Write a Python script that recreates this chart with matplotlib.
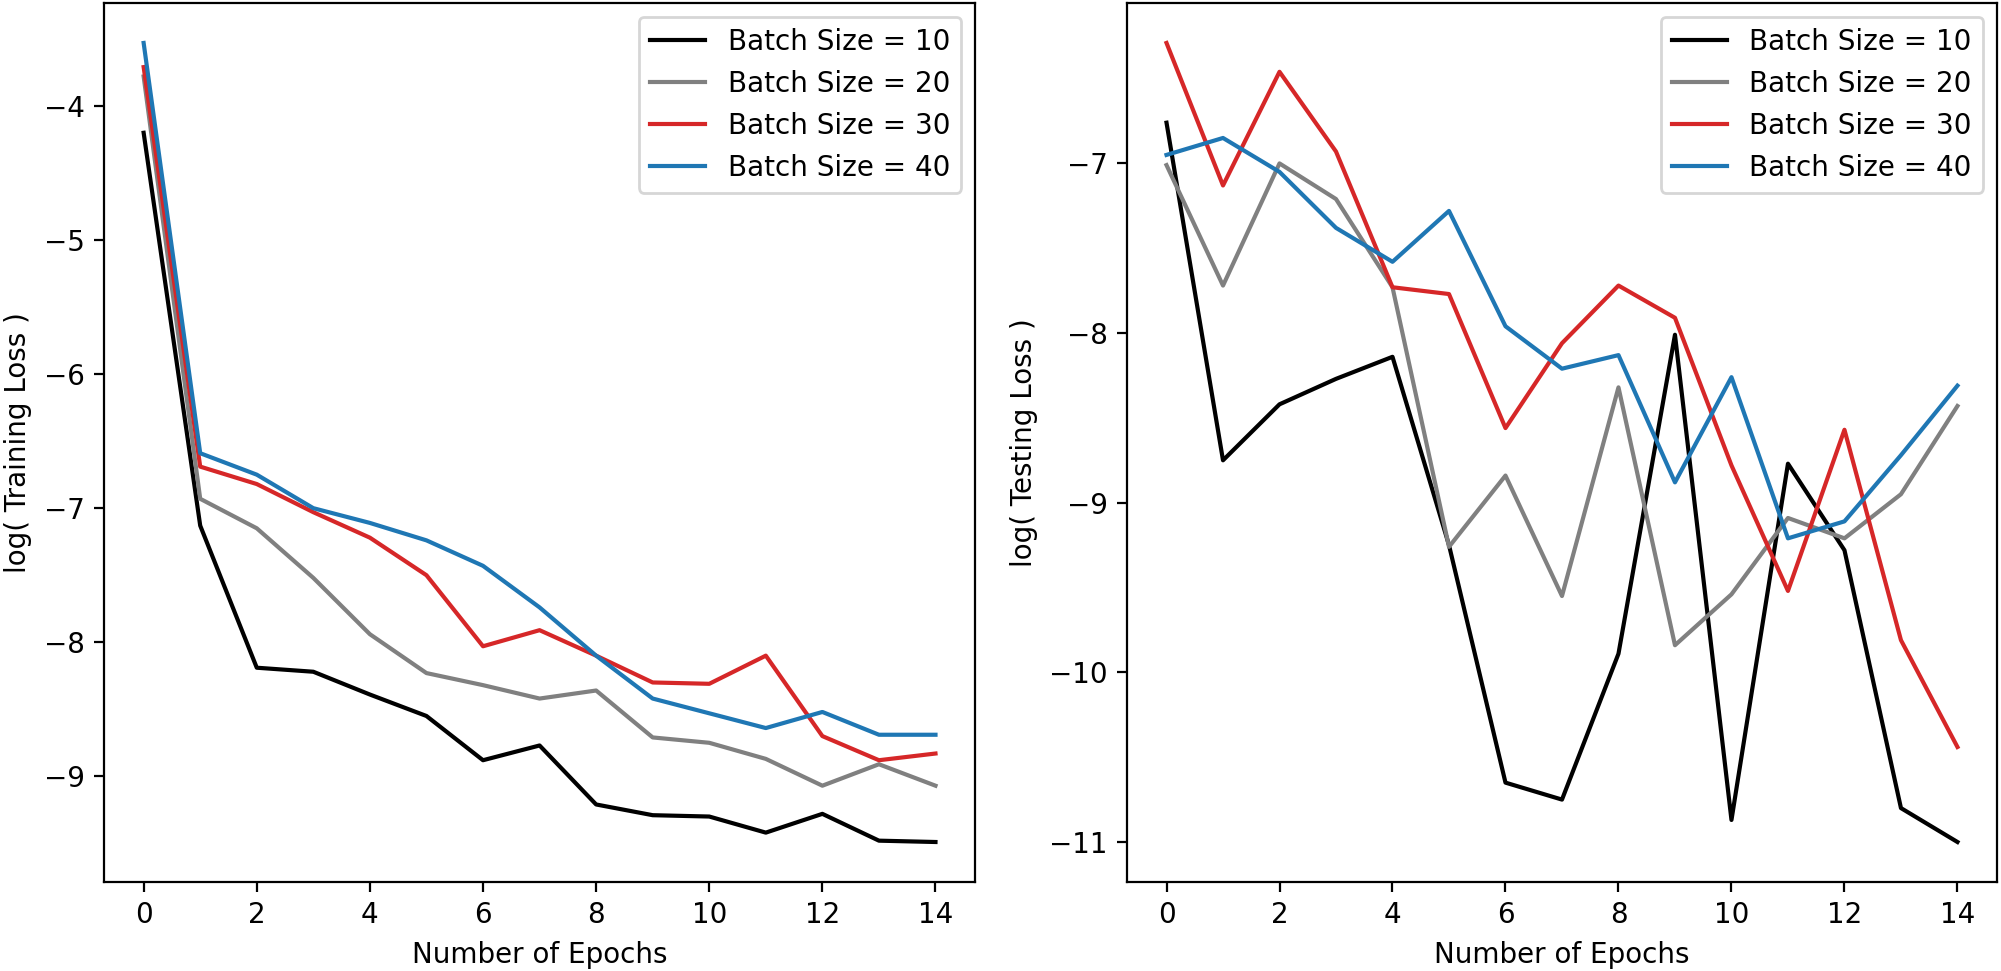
import matplotlib.pyplot as plt

epochs = list(range(15))
labels = ["Batch Size = 10", "Batch Size = 20", "Batch Size = 30", "Batch Size = 40"]
colors = ["black", "gray", "tab:red", "tab:blue"]

train_10 = [-4.20, -7.13, -8.19, -8.22, -8.39, -8.55, -8.88, -8.77, -9.21, -9.29, -9.30, -9.42, -9.28, -9.48, -9.49]
train_20 = [-3.78, -6.93, -7.15, -7.52, -7.94, -8.23, -8.32, -8.42, -8.36, -8.71, -8.75, -8.87, -9.07, -8.91, -9.07]
train_30 = [-3.71, -6.69, -6.82, -7.03, -7.22, -7.50, -8.03, -7.91, -8.10, -8.30, -8.31, -8.10, -8.70, -8.88, -8.83]
train_40 = [-3.53, -6.59, -6.75, -7.00, -7.11, -7.24, -7.43, -7.74, -8.10, -8.42, -8.53, -8.64, -8.52, -8.69, -8.69]

test_10 = [-6.76, -8.75, -8.42, -8.27, -8.14, -9.25, -10.65, -10.75, -9.89, -8.01, -10.87, -8.77, -9.28, -10.80, -11.00]
test_20 = [-7.01, -7.72, -7.00, -7.21, -7.73, -9.26, -8.84, -9.55, -8.32, -9.84, -9.54, -9.09, -9.21, -8.95, -8.43]
test_30 = [-6.29, -7.13, -6.46, -6.93, -7.73, -7.77, -8.56, -8.06, -7.72, -7.91, -8.78, -9.52, -8.57, -9.81, -10.44]
test_40 = [-6.95, -6.85, -7.05, -7.38, -7.58, -7.28, -7.96, -8.21, -8.13, -8.88, -8.26, -9.21, -9.11, -8.72, -8.31]

train = [train_10, train_20, train_30, train_40]
test = [test_10, test_20, test_30, test_40]

fig = plt.figure(figsize=(10.005, 4.855), dpi=200)
ax1 = fig.add_axes([0.0520, 0.0917, 0.4353, 0.9052])
ax2 = fig.add_axes([0.5632, 0.0917, 0.4348, 0.9052])

for ys, c, lab in zip(train, colors, labels):
    ax1.plot(epochs, ys, color=c, label=lab)
for ys, c, lab in zip(test, colors, labels):
    ax2.plot(epochs, ys, color=c, label=lab)

ax1.set_xlabel("Number of Epochs")
ax1.set_ylabel("log( Training Loss )")
ax2.set_xlabel("Number of Epochs")
ax2.set_ylabel("log( Testing Loss )")

for ax in (ax1, ax2):
    ax.set_xticks(range(0, 15, 2))
    ax.legend(loc="upper right")

fig.savefig("out.png", dpi=200)
plt.close(fig)
